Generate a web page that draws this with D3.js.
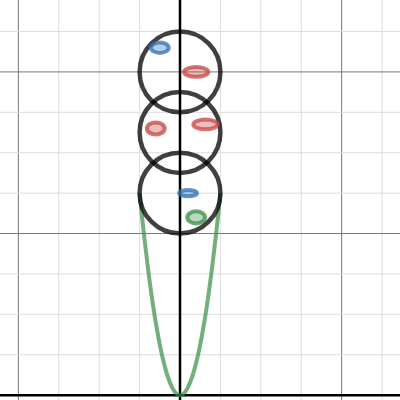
<!DOCTYPE html>
<html><head><script src="https://cdn.jsdelivr.net/npm/d3@7"></script>
<style>body{margin:0}</style></head><body>
<script>
// circles (center y, radius), parabola y = 5x^2, small blobs
var circleCenters = [8, 6.5, 5]
var circleRadius = 1
var parabolaA = 5
var parabolaXs = [-1, -0.9, -0.8, -0.7, -0.6, -0.5, -0.4, -0.3, -0.2, -0.1, 0, 0.1, 0.2, 0.3, 0.4, 0.5, 0.6, 0.7, 0.8, 0.9, 1]
var blobX = [-0.5, 0.4, -0.6, 0.63, 0.2, 0.4]
var blobY = [8.6, 8, 6.6, 6.7, 5, 4.4]
var blobRx = [0.22, 0.3, 0.22, 0.3, 0.22, 0.22]
var blobRy = [0.13, 0.12, 0.15, 0.12, 0.08, 0.15]
var blobColor = ['#388c46','#c74440','#c74440','#c74440','#2d70b3','#388c46']
blobColor = ['#2d70b3','#c74440','#c74440','#c74440','#2d70b3','#388c46']

var W = 400, H = 400
var x = d3.scaleLinear().domain([-4.455, 5.445]).range([0, W])
var y = d3.scaleLinear().domain([-0.12, 9.78]).range([H, 0])
var svg = d3.select('body').append('svg').attr('width', W).attr('height', H)
  .style('background', '#fff')

var minorX = d3.range(-4, 6), minorY = d3.range(0, 10)
svg.selectAll('.vx').data(minorX).enter().append('line')
  .attr('x1', d => x(d)).attr('x2', d => x(d)).attr('y1', 0).attr('y2', H)
  .attr('stroke', d => d % 4 === 0 ? '#777' : '#ddd').attr('stroke-width', 1)
svg.selectAll('.hy').data(minorY).enter().append('line')
  .attr('y1', d => y(d)).attr('y2', d => y(d)).attr('x1', 0).attr('x2', W)
  .attr('stroke', d => d % 4 === 0 ? '#777' : '#ddd').attr('stroke-width', 1)
// axes
svg.append('line').attr('x1', x(0)).attr('x2', x(0)).attr('y1', 0).attr('y2', H)
  .attr('stroke', '#000').attr('stroke-width', 2.5)
svg.append('line').attr('y1', y(0)).attr('y2', y(0)).attr('x1', 0).attr('x2', W)
  .attr('stroke', '#000').attr('stroke-width', 2.5)

svg.append('path').datum(parabolaXs)
  .attr('d', d3.line().x(d => x(d)).y(d => y(parabolaA * d * d)).curve(d3.curveCatmullRom))
  .attr('fill', 'none').attr('stroke', '#388c46').attr('stroke-width', 4).attr('opacity', 0.7)

svg.selectAll('.c').data(circleCenters).enter().append('ellipse')
  .attr('cx', x(0)).attr('cy', d => y(d))
  .attr('rx', x(circleRadius) - x(0)).attr('ry', y(0) - y(circleRadius))
  .attr('fill', 'none').attr('stroke', '#000').attr('stroke-width', 4.5).attr('opacity', 0.75)

svg.selectAll('.b').data(blobX).enter().append('ellipse')
  .attr('cx', d => x(d)).attr('cy', (d, i) => y(blobY[i]))
  .attr('rx', (d, i) => x(blobRx[i]) - x(0)).attr('ry', (d, i) => y(0) - y(blobRy[i]))
  .attr('fill', (d, i) => blobColor[i]).attr('fill-opacity', 0.35)
  .attr('stroke', (d, i) => blobColor[i]).attr('stroke-width', 4).attr('stroke-opacity', 0.75)
</script></body></html>
